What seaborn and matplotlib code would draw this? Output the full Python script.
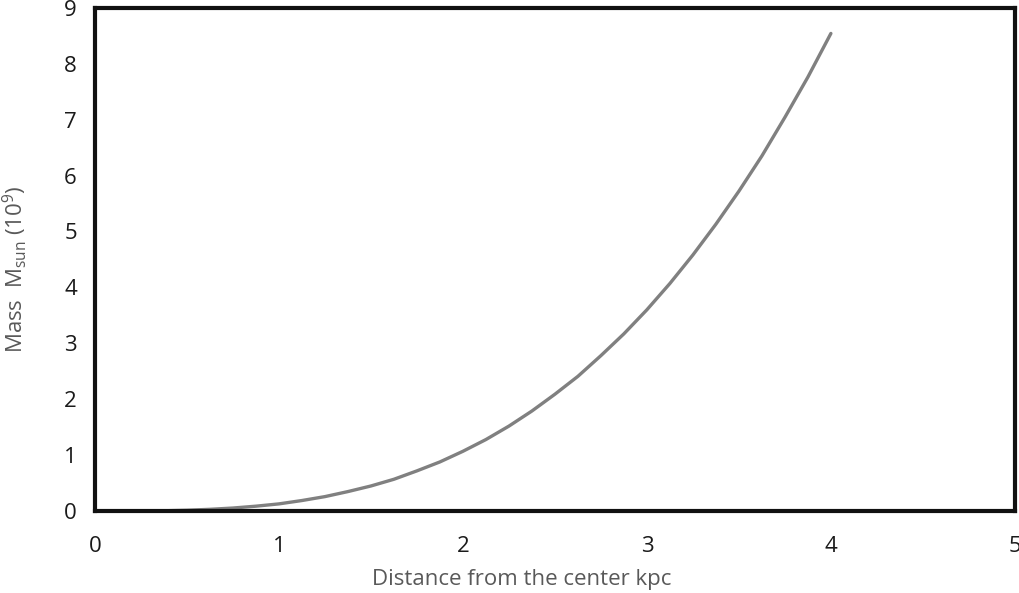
import matplotlib.pyplot as plt
import seaborn as sns
import pandas as pd

# values
distance_kpc = [0, 0.125, 0.25, 0.375, 0.5, 0.625, 0.75, 0.875, 1, 1.125, 1.25, 1.375,
                1.5, 1.625, 1.75, 1.875, 2, 2.125, 2.25, 2.375, 2.5, 2.625, 2.75, 2.875,
                3, 3.125, 3.25, 3.375, 3.5, 3.625, 3.75, 3.875, 4]
mass_1e9 = [0, 0.0003, 0.002, 0.007, 0.017, 0.033, 0.056, 0.089, 0.13, 0.19, 0.26, 0.35,
            0.45, 0.57, 0.72, 0.88, 1.07, 1.28, 1.52, 1.79, 2.09, 2.41, 2.78, 3.17,
            3.6, 4.07, 4.58, 5.13, 5.72, 6.35, 7.04, 7.76, 8.54]
x_ticks = [0, 1, 2, 3, 4, 5]
y_ticks = [0, 1, 2, 3, 4, 5, 6, 7, 8, 9]

df = pd.DataFrame({"distance": distance_kpc, "mass": mass_1e9})

sns.set_style("white")
plt.rcParams['font.family'] = ['Open Sans', 'DejaVu Sans']

fig = plt.figure(figsize=(10.2, 5.93), dpi=100)
ax = fig.add_axes([0.093, 0.138, 0.902, 0.849])

sns.lineplot(data=df, x="distance", y="mass", ax=ax, color="#808080", linewidth=2.4)

ax.set_xlim(0, 5)
ax.set_ylim(0, 9)
ax.set_xticks(x_ticks)
ax.set_yticks(y_ticks)
ax.tick_params(axis="both", labelsize=16, colors="#1a1a1a", direction="out",
               length=5, width=0.8, color="#999999")
ax.tick_params(axis="x", pad=13)
ax.tick_params(axis="y", pad=8)

for side in ["left", "right", "top", "bottom"]:
    ax.spines[side].set_color("#111111")
    ax.spines[side].set_linewidth(3)

ax.set_xlabel("Distance from the center kpc", fontsize=16, color="#595959")
ax.set_ylabel(r"Mass  M$_\mathregular{sun}$ (10$^\mathregular{9}$)", fontsize=16,
              color="#595959")
ax.xaxis.set_label_coords(0.464, -0.115)
ax.yaxis.set_label_coords(-0.072, 0.481)

plt.savefig("out.png", dpi=100)
